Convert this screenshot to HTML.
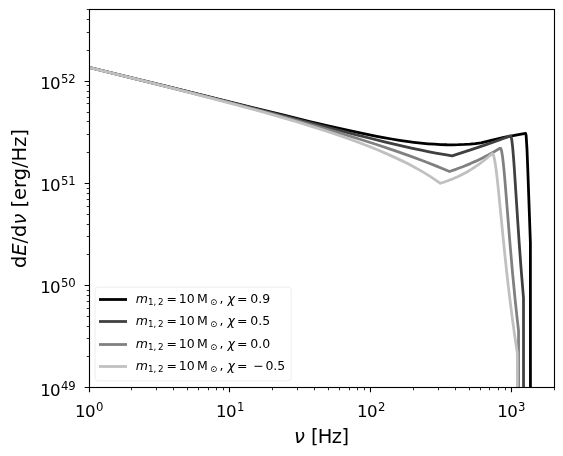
<!DOCTYPE html>
<html lang="en"><head><meta charset="utf-8"><title>dE/dν spectrum</title>
<style>html,body{margin:0;padding:0;background:#fff;overflow:hidden}svg{display:block}</style></head>
<body>
<svg width="563" height="456" viewBox="0 0 563 456" font-family="DejaVu Sans, Liberation Sans, sans-serif" fill="#000">
<rect width="563" height="456" fill="#fff"/>
<defs><clipPath id="ax"><rect x="89.5" y="9.5" width="465.0" height="378.0"/></clipPath></defs>
<g clip-path="url(#ax)" fill="none" stroke-width="2.78" stroke-linejoin="round" stroke-linecap="butt">
<path d="M85.88 66.60 L174.11 88.19 L282.83 114.97 L308.68 121.25 L329.17 126.09 L346.11 129.94 L361.26 133.21 L375.52 136.09 L383.54 137.59 L391.56 139.00 L399.58 140.29 L406.71 141.34 L413.84 142.27 L420.97 143.08 L428.09 143.76 L434.33 144.22 L440.57 144.56 L446.81 144.75 L453.05 144.80 L458.40 144.70 L464.63 144.43 L469.98 144.05 L475.33 143.52 L481.01 142.79 L492.26 140.03 L503.85 137.46 L514.54 135.35 L519.89 134.41 L525.59 133.48 L526.11 135.30 L526.96 148.61 L527.82 170.22 L530.40 243.00 L530.45 407.50" stroke="#000000"/>
<path d="M85.88 66.63 L164.04 85.83 L229.03 102.02 L273.82 113.42 L355.50 134.53 L372.18 138.77 L384.48 141.81 L403.80 146.36 L412.58 148.32 L421.36 150.19 L429.27 151.79 L437.17 153.30 L445.08 154.69 L452.11 155.83 L470.54 149.91 L485.47 144.92 L498.65 140.26 L510.30 135.85 L510.91 136.00 L511.75 139.58 L512.59 146.62 L513.43 156.34 L514.27 167.88 L517.63 219.69 L519.30 244.46 L520.98 267.31 L523.50 298.00 L523.55 407.50" stroke="#404040"/>
<path d="M85.88 66.67 L129.28 77.34 L166.60 86.61 L199.58 94.90 L228.22 102.21 L252.52 108.56 L275.09 114.61 L296.79 120.58 L317.62 126.50 L338.45 132.62 L357.54 138.46 L375.77 144.29 L394.00 150.38 L409.62 155.85 L423.50 160.99 L436.52 166.11 L443.47 168.98 L449.46 171.54 L456.49 169.07 L463.43 166.44 L470.37 163.59 L476.45 160.89 L482.52 157.98 L488.60 154.83 L494.67 151.43 L499.91 148.27 L500.73 148.30 L501.58 150.89 L502.43 155.86 L503.28 162.83 L504.13 171.35 L504.97 180.95 L510.06 244.33 L512.61 273.51 L515.16 299.79 L516.85 315.79 L518.55 330.70 L518.60 407.50" stroke="#808080"/>
<path d="M85.88 66.71 L133.50 78.47 L173.33 88.45 L207.97 97.31 L236.54 104.83 L262.52 111.93 L285.90 118.61 L297.15 121.95 L307.54 125.11 L317.07 128.10 L326.59 131.18 L336.12 134.36 L344.78 137.36 L353.44 140.48 L362.09 143.72 L369.89 146.78 L378.55 150.32 L386.34 153.64 L394.13 157.12 L401.06 160.38 L407.12 163.37 L413.18 166.52 L419.24 169.85 L425.30 173.39 L430.50 176.61 L435.69 180.04 L440.33 183.30 L444.35 181.99 L447.82 180.76 L451.28 179.42 L454.74 177.98 L458.21 176.42 L461.67 174.74 L465.13 172.93 L467.73 171.48 L471.19 169.42 L473.79 167.78 L477.26 165.46 L479.85 163.61 L483.32 161.01 L485.91 158.95 L488.51 156.79 L491.66 154.05 L491.97 153.71 L492.81 153.92 L493.66 155.82 L494.51 159.30 L495.35 164.18 L496.20 170.23 L497.04 177.21 L497.89 184.89 L504.66 252.82 L506.35 268.76 L508.04 283.88 L509.74 298.16 L512.27 318.10 L514.81 336.41 L517.35 353.30 L517.40 407.50" stroke="#c0c0c0"/>
</g>
<path d="M89.5 387.5v4.86M229.5 387.5v4.86M370.5 387.5v4.86M511.5 387.5v4.86M89.5 387.5h-4.86M89.5 285.5h-4.86M89.5 183.5h-4.86M89.5 81.5h-4.86" stroke="#000" stroke-width="1.11" fill="none"/>
<path d="M131.5 387.5v2.78M156.5 387.5v2.78M173.5 387.5v2.78M187.5 387.5v2.78M198.5 387.5v2.78M208.5 387.5v2.78M216.5 387.5v2.78M223.5 387.5v2.78M272.5 387.5v2.78M297.5 387.5v2.78M314.5 387.5v2.78M328.5 387.5v2.78M339.5 387.5v2.78M349.5 387.5v2.78M357.5 387.5v2.78M364.5 387.5v2.78M413.5 387.5v2.78M438.5 387.5v2.78M455.5 387.5v2.78M469.5 387.5v2.78M480.5 387.5v2.78M489.5 387.5v2.78M498.5 387.5v2.78M505.5 387.5v2.78M554.5 387.5v2.78M89.5 356.5h-2.78M89.5 338.5h-2.78M89.5 326.5h-2.78M89.5 316.5h-2.78M89.5 308.5h-2.78M89.5 301.5h-2.78M89.5 295.5h-2.78M89.5 290.5h-2.78M89.5 254.5h-2.78M89.5 236.5h-2.78M89.5 224.5h-2.78M89.5 214.5h-2.78M89.5 206.5h-2.78M89.5 199.5h-2.78M89.5 193.5h-2.78M89.5 188.5h-2.78M89.5 152.5h-2.78M89.5 134.5h-2.78M89.5 121.5h-2.78M89.5 112.5h-2.78M89.5 103.5h-2.78M89.5 97.5h-2.78M89.5 91.5h-2.78M89.5 85.5h-2.78M89.5 50.5h-2.78M89.5 32.5h-2.78M89.5 19.5h-2.78M89.5 9.5h-2.78" stroke="#000" stroke-width="0.83" fill="none"/>
<rect x="89.5" y="9.5" width="465.0" height="378.0" fill="none" stroke="#000" stroke-width="1.11" stroke-linejoin="miter"/>
<text font-size="16.667" y="416.80"><tspan x="75.10 85.10">10</tspan><tspan font-size="11.667" x="96.00" y="411.20">0</tspan></text>
<text font-size="16.667" y="416.80"><tspan x="216.05 226.05">10</tspan><tspan font-size="11.667" x="236.95" y="411.20">1</tspan></text>
<text font-size="16.667" y="416.80"><tspan x="357.00 367.00">10</tspan><tspan font-size="11.667" x="377.90" y="411.20">2</tspan></text>
<text font-size="16.667" y="416.80"><tspan x="497.15 507.15">10</tspan><tspan font-size="11.667" x="518.05" y="411.20">3</tspan></text>
<text font-size="16.667" y="395.80"><tspan x="40.30 49.95">10</tspan><tspan font-size="11.667" x="61.0 68.2" y="390.20">49</tspan></text>
<text font-size="16.667" y="292.80"><tspan x="40.30 49.95">10</tspan><tspan font-size="11.667" x="61.0 68.2" y="287.20">50</tspan></text>
<text font-size="16.667" y="190.80"><tspan x="40.30 49.95">10</tspan><tspan font-size="11.667" x="61.0 68.2" y="185.20">51</tspan></text>
<text font-size="16.667" y="88.80"><tspan x="40.30 49.95">10</tspan><tspan font-size="11.667" x="61.0 68.2" y="83.20">52</tspan></text>
<text font-size="19.444" x="294.0" y="443.2"><tspan font-style="oblique">ν</tspan><tspan x="311.04 317.66 331.63 341.44">[Hz]</tspan></text>
<text font-size="19.444" transform="translate(25.9 268.1) rotate(-90)"><tspan x="0" y="0">d</tspan><tspan font-style="oblique" x="12.34">E</tspan><tspan x="24.63">/d</tspan><tspan font-style="oblique" x="43.52">ν</tspan><tspan x="60.56">[erg/Hz]</tspan></text>
<rect x="95.1" y="287.2" width="196.1" height="93.5" rx="3.2" ry="3.2" fill="#fff" fill-opacity="0.8" stroke="#f3f3f3" stroke-width="1.39"/>
<path d="M99 299.50H127" stroke="#000000" stroke-width="2.78" fill="none"/>
<text font-size="12.5" y="302.80"><tspan font-style="oblique" x="135.70">m</tspan><tspan font-size="8.75" x="147.94 153.54 158.05" dy="2">1,2</tspan><tspan x="166.42" dy="-2">=</tspan><tspan x="178.70">10</tspan><tspan x="197.03">M</tspan><tspan font-size="8.75" x="210.11" dy="2">⊙</tspan><tspan x="219.52" dy="-2">,</tspan><tspan font-style="oblique" x="227.51">χ</tspan><tspan x="236.90">=</tspan><tspan x="250.37">0.9</tspan></text>
<path d="M99 321.50H127" stroke="#404040" stroke-width="2.78" fill="none"/>
<text font-size="12.5" y="325.10"><tspan font-style="oblique" x="135.70">m</tspan><tspan font-size="8.75" x="147.94 153.54 158.05" dy="2">1,2</tspan><tspan x="166.42" dy="-2">=</tspan><tspan x="178.70">10</tspan><tspan x="197.03">M</tspan><tspan font-size="8.75" x="210.11" dy="2">⊙</tspan><tspan x="219.52" dy="-2">,</tspan><tspan font-style="oblique" x="227.51">χ</tspan><tspan x="236.90">=</tspan><tspan x="250.37">0.5</tspan></text>
<path d="M99 344.50H127" stroke="#808080" stroke-width="2.78" fill="none"/>
<text font-size="12.5" y="348.00"><tspan font-style="oblique" x="135.70">m</tspan><tspan font-size="8.75" x="147.94 153.54 158.05" dy="2">1,2</tspan><tspan x="166.42" dy="-2">=</tspan><tspan x="178.70">10</tspan><tspan x="197.03">M</tspan><tspan font-size="8.75" x="210.11" dy="2">⊙</tspan><tspan x="219.52" dy="-2">,</tspan><tspan font-style="oblique" x="227.51">χ</tspan><tspan x="236.90">=</tspan><tspan x="250.37">0.0</tspan></text>
<path d="M99 366.50H127" stroke="#c0c0c0" stroke-width="2.78" fill="none"/>
<text font-size="12.5" y="369.70"><tspan font-style="oblique" x="135.70">m</tspan><tspan font-size="8.75" x="147.94 153.54 158.05" dy="2">1,2</tspan><tspan x="166.42" dy="-2">=</tspan><tspan x="178.70">10</tspan><tspan x="197.03">M</tspan><tspan font-size="8.75" x="210.11" dy="2">⊙</tspan><tspan x="219.52" dy="-2">,</tspan><tspan font-style="oblique" x="227.51">χ</tspan><tspan x="236.90">=</tspan><tspan x="253.15">−</tspan><tspan x="265.43">0.5</tspan></text>
</svg>
</body></html>
